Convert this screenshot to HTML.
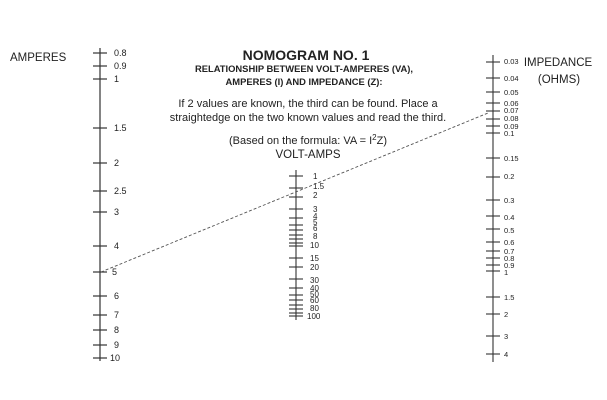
<!DOCTYPE html>
<html><head><meta charset="utf-8"><style>
html,body{margin:0;padding:0;background:#fff;}
svg{display:block;font-family:"Liberation Sans",Arial,sans-serif;}
</style></head><body>
<svg width="607" height="400" viewBox="0 0 607 400" xmlns="http://www.w3.org/2000/svg">
<rect width="607" height="400" fill="#fff"/>
<g fill="#222">
<text x="10" y="61" font-size="11.5">AMPERES</text>
<text x="558" y="66" font-size="11.5" text-anchor="middle">IMPEDANCE</text>
<text x="559" y="83" font-size="11.5" text-anchor="middle">(OHMS)</text>
<text x="306" y="60" font-size="14" font-weight="bold" text-anchor="middle">NOMOGRAM NO. 1</text>
<text x="304" y="72" font-size="9.4" font-weight="bold" text-anchor="middle">RELATIONSHIP BETWEEN VOLT-AMPERES (VA),</text>
<text x="304" y="85" font-size="9.4" font-weight="bold" text-anchor="middle">AMPERES (I) AND IMPEDANCE (Z):</text>
<text x="308" y="107" font-size="11" text-anchor="middle">If 2 values are known, the third can be found. Place a</text>
<text x="308" y="121" font-size="11" text-anchor="middle">straightedge on the two known values and read the third.</text>
<text x="308" y="144" font-size="11" text-anchor="middle">(Based on the formula: VA = I<tspan font-size="8" dy="-4">2</tspan><tspan dy="4">Z)</tspan></text>
<text x="308" y="158" font-size="11.5" text-anchor="middle">VOLT-AMPS</text>
</g>
<g stroke="#333" stroke-width="1.2">
<line x1="100" y1="48" x2="100" y2="361"/>
<line x1="93" y1="53" x2="107" y2="53"/><line x1="93" y1="66" x2="107" y2="66"/>
<line x1="93" y1="79" x2="107" y2="79"/><line x1="93" y1="128" x2="107" y2="128"/>
<line x1="93" y1="163" x2="107" y2="163"/><line x1="93" y1="191" x2="107" y2="191"/>
<line x1="93" y1="212" x2="107" y2="212"/><line x1="93" y1="246" x2="107" y2="246"/>
<line x1="93" y1="272" x2="107" y2="272"/><line x1="93" y1="296" x2="107" y2="296"/>
<line x1="93" y1="315" x2="107" y2="315"/><line x1="93" y1="330" x2="107" y2="330"/>
<line x1="93" y1="345" x2="107" y2="345"/><line x1="93" y1="358" x2="107" y2="358"/>
</g>
<g fill="#222" font-size="9">
<text x="114" y="56">0.8</text><text x="114" y="69">0.9</text><text x="114" y="82">1</text>
<text x="114" y="131">1.5</text><text x="114" y="166">2</text><text x="114" y="194">2.5</text>
<text x="114" y="215">3</text><text x="114" y="249">4</text><text x="112" y="275">5</text>
<text x="114" y="299">6</text><text x="114" y="318">7</text><text x="114" y="333">8</text>
<text x="114" y="348">9</text><text x="110" y="361">10</text>
</g>
<g stroke="#333" stroke-width="1.1">
<line x1="296" y1="170" x2="296" y2="320"/>
<line x1="289" y1="176" x2="303" y2="176"/><line x1="289" y1="188" x2="303" y2="188"/>
<line x1="289" y1="197" x2="303" y2="197"/><line x1="289" y1="209" x2="303" y2="209"/>
<line x1="289" y1="218" x2="303" y2="218"/><line x1="289" y1="225" x2="303" y2="225"/>
<line x1="289" y1="230" x2="303" y2="230"/><line x1="289" y1="235" x2="303" y2="235"/>
<line x1="289" y1="239" x2="303" y2="239"/><line x1="289" y1="243" x2="303" y2="243"/>
<line x1="289" y1="246" x2="303" y2="246"/><line x1="289" y1="258" x2="303" y2="258"/>
<line x1="289" y1="267" x2="303" y2="267"/><line x1="289" y1="279" x2="303" y2="279"/>
<line x1="289" y1="288" x2="303" y2="288"/><line x1="289" y1="295" x2="303" y2="295"/>
<line x1="289" y1="300" x2="303" y2="300"/><line x1="289" y1="305" x2="303" y2="305"/>
<line x1="289" y1="309" x2="303" y2="309"/><line x1="289" y1="313" x2="303" y2="313"/>
<line x1="289" y1="316" x2="303" y2="316"/>
</g>
<g fill="#222" font-size="8">
<text x="313" y="179">1</text><text x="313" y="189">1.5</text><text x="313" y="198">2</text>
<text x="313" y="212">3</text><text x="313" y="219">4</text><text x="313" y="225">5</text>
<text x="313" y="231">6</text><text x="313" y="239">8</text><text x="310" y="248">10</text>
<text x="310" y="261">15</text><text x="310" y="270">20</text><text x="310" y="283">30</text>
<text x="310" y="291">40</text><text x="310" y="297">50</text><text x="310" y="303">60</text>
<text x="310" y="311">80</text><text x="307" y="319">100</text>
</g>
<g stroke="#333" stroke-width="1.1">
<line x1="493" y1="55" x2="493" y2="362"/>
<line x1="486" y1="62" x2="500" y2="62"/><line x1="486" y1="78" x2="500" y2="78"/>
<line x1="486" y1="92" x2="500" y2="92"/><line x1="486" y1="103" x2="500" y2="103"/>
<line x1="486" y1="111" x2="500" y2="111"/><line x1="486" y1="119" x2="500" y2="119"/>
<line x1="486" y1="126" x2="500" y2="126"/><line x1="486" y1="133" x2="500" y2="133"/>
<line x1="486" y1="158" x2="500" y2="158"/><line x1="486" y1="177" x2="500" y2="177"/>
<line x1="486" y1="200" x2="500" y2="200"/><line x1="486" y1="216" x2="500" y2="216"/>
<line x1="486" y1="229" x2="500" y2="229"/><line x1="486" y1="242" x2="500" y2="242"/>
<line x1="486" y1="251" x2="500" y2="251"/><line x1="486" y1="258" x2="500" y2="258"/>
<line x1="486" y1="265" x2="500" y2="265"/><line x1="486" y1="271" x2="500" y2="271"/>
<line x1="486" y1="297" x2="500" y2="297"/><line x1="486" y1="314" x2="500" y2="314"/>
<line x1="486" y1="336" x2="500" y2="336"/><line x1="486" y1="354" x2="500" y2="354"/>
</g>
<g fill="#222" font-size="7.5">
<text x="504" y="64">0.03</text><text x="504" y="81">0.04</text><text x="504" y="95">0.05</text>
<text x="504" y="106">0.06</text><text x="504" y="113">0.07</text><text x="504" y="121">0.08</text>
<text x="504" y="129">0.09</text><text x="504" y="136">0.1</text><text x="504" y="161">0.15</text>
<text x="504" y="179">0.2</text><text x="504" y="203">0.3</text><text x="504" y="220">0.4</text>
<text x="504" y="233">0.5</text><text x="504" y="245">0.6</text><text x="504" y="254">0.7</text>
<text x="504" y="261">0.8</text><text x="504" y="268">0.9</text><text x="504" y="275">1</text>
<text x="504" y="300">1.5</text><text x="504" y="317">2</text><text x="504" y="339">3</text>
<text x="504" y="357">4</text>
</g>
<line x1="101" y1="272" x2="488" y2="113" stroke="#555" stroke-width="0.9" stroke-dasharray="3,2"/>
</svg>
</body></html>
